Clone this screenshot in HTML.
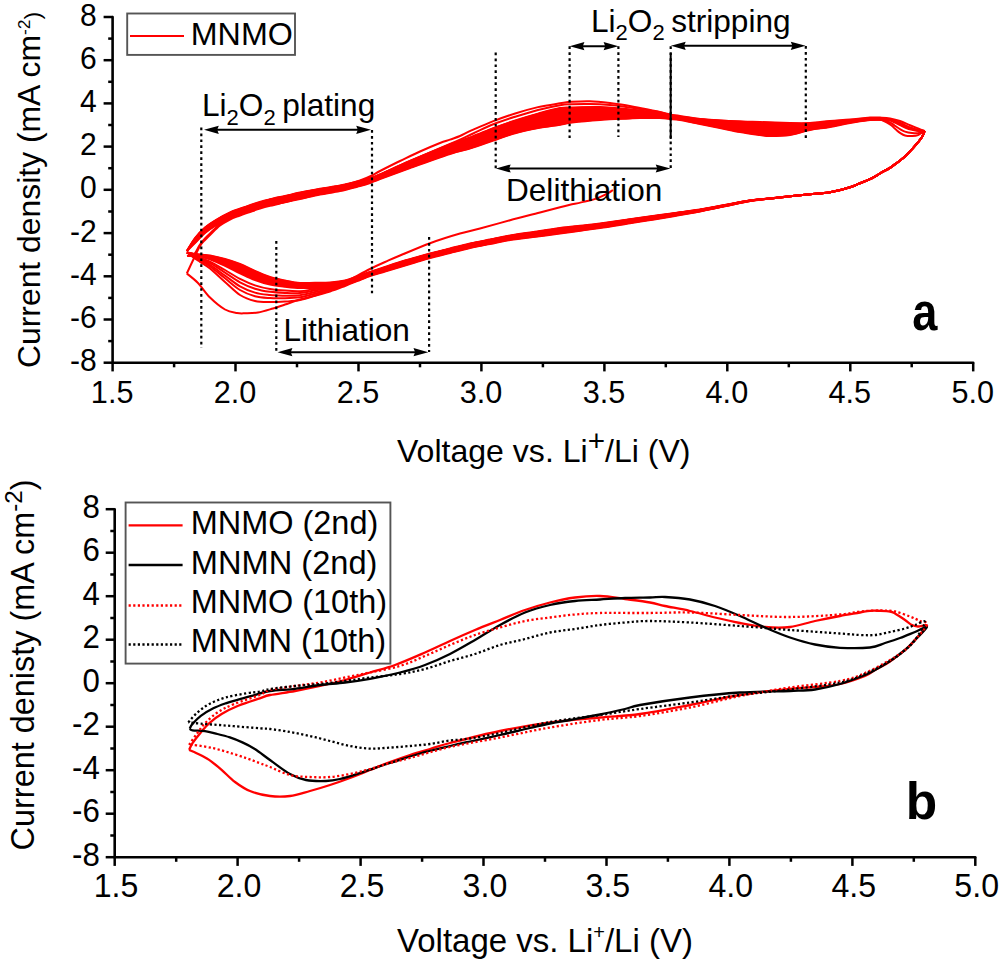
<!DOCTYPE html>
<html><head><meta charset="utf-8"><title>CV curves</title>
<style>html,body{margin:0;padding:0;background:#fff;}svg{display:block;}
text{font-family:"Liberation Sans",sans-serif;fill:#000;}</style></head>
<body><svg width="1000" height="962" viewBox="0 0 1000 962">
<rect width="1000" height="962" fill="#fff"/>
<path d="M112.6,17.0 V362.7 H973.2" fill="none" stroke="#000" stroke-width="2.6" stroke-linejoin="round" stroke-linecap="round"/>
<line x1="112.6" y1="362.7" x2="112.6" y2="371.4" stroke="#000" stroke-width="2.5"/>
<text transform="translate(112.17,402.86) scale(0.9757,1)" font-size="31.40" text-anchor="middle">1.5</text>
<line x1="174.1" y1="362.7" x2="174.1" y2="367.3" stroke="#000" stroke-width="2.5"/>
<line x1="235.5" y1="362.7" x2="235.5" y2="371.4" stroke="#000" stroke-width="2.5"/>
<text transform="translate(235.11,402.86) scale(0.9757,1)" font-size="31.40" text-anchor="middle">2.0</text>
<line x1="297.0" y1="362.7" x2="297.0" y2="367.3" stroke="#000" stroke-width="2.5"/>
<line x1="358.5" y1="362.7" x2="358.5" y2="371.4" stroke="#000" stroke-width="2.5"/>
<text transform="translate(358.06,402.86) scale(0.9757,1)" font-size="31.40" text-anchor="middle">2.5</text>
<line x1="420.0" y1="362.7" x2="420.0" y2="367.3" stroke="#000" stroke-width="2.5"/>
<line x1="481.4" y1="362.7" x2="481.4" y2="371.4" stroke="#000" stroke-width="2.5"/>
<text transform="translate(481.00,402.86) scale(0.9757,1)" font-size="31.40" text-anchor="middle">3.0</text>
<line x1="542.9" y1="362.7" x2="542.9" y2="367.3" stroke="#000" stroke-width="2.5"/>
<line x1="604.4" y1="362.7" x2="604.4" y2="371.4" stroke="#000" stroke-width="2.5"/>
<text transform="translate(603.94,402.86) scale(0.9757,1)" font-size="31.40" text-anchor="middle">3.5</text>
<line x1="665.8" y1="362.7" x2="665.8" y2="367.3" stroke="#000" stroke-width="2.5"/>
<line x1="727.3" y1="362.7" x2="727.3" y2="371.4" stroke="#000" stroke-width="2.5"/>
<text transform="translate(726.88,402.86) scale(0.9757,1)" font-size="31.40" text-anchor="middle">4.0</text>
<line x1="788.8" y1="362.7" x2="788.8" y2="367.3" stroke="#000" stroke-width="2.5"/>
<line x1="850.3" y1="362.7" x2="850.3" y2="371.4" stroke="#000" stroke-width="2.5"/>
<text transform="translate(849.83,402.86) scale(0.9757,1)" font-size="31.40" text-anchor="middle">4.5</text>
<line x1="911.7" y1="362.7" x2="911.7" y2="367.3" stroke="#000" stroke-width="2.5"/>
<line x1="973.2" y1="362.7" x2="973.2" y2="371.4" stroke="#000" stroke-width="2.5"/>
<text transform="translate(972.77,402.86) scale(0.9757,1)" font-size="31.40" text-anchor="middle">5.0</text>
<line x1="103.6" y1="17.0" x2="112.6" y2="17.0" stroke="#000" stroke-width="2.5"/>
<text transform="translate(96.84,25.54) scale(0.9508,1)" font-size="31.60" text-anchor="end">8</text>
<line x1="108.2" y1="38.6" x2="112.6" y2="38.6" stroke="#000" stroke-width="2.5"/>
<line x1="103.6" y1="60.2" x2="112.6" y2="60.2" stroke="#000" stroke-width="2.5"/>
<text transform="translate(96.84,68.75) scale(0.9508,1)" font-size="31.60" text-anchor="end">6</text>
<line x1="108.2" y1="81.8" x2="112.6" y2="81.8" stroke="#000" stroke-width="2.5"/>
<line x1="103.6" y1="103.4" x2="112.6" y2="103.4" stroke="#000" stroke-width="2.5"/>
<text transform="translate(96.84,111.97) scale(0.9508,1)" font-size="31.60" text-anchor="end">4</text>
<line x1="108.2" y1="125.0" x2="112.6" y2="125.0" stroke="#000" stroke-width="2.5"/>
<line x1="103.6" y1="146.6" x2="112.6" y2="146.6" stroke="#000" stroke-width="2.5"/>
<text transform="translate(96.84,155.18) scale(0.9508,1)" font-size="31.60" text-anchor="end">2</text>
<line x1="108.2" y1="168.2" x2="112.6" y2="168.2" stroke="#000" stroke-width="2.5"/>
<line x1="103.6" y1="189.8" x2="112.6" y2="189.8" stroke="#000" stroke-width="2.5"/>
<text transform="translate(96.84,198.39) scale(0.9508,1)" font-size="31.60" text-anchor="end">0</text>
<line x1="108.2" y1="211.5" x2="112.6" y2="211.5" stroke="#000" stroke-width="2.5"/>
<line x1="103.6" y1="233.1" x2="112.6" y2="233.1" stroke="#000" stroke-width="2.5"/>
<text transform="translate(96.84,241.60) scale(0.9508,1)" font-size="31.60" text-anchor="end">-2</text>
<line x1="108.2" y1="254.7" x2="112.6" y2="254.7" stroke="#000" stroke-width="2.5"/>
<line x1="103.6" y1="276.3" x2="112.6" y2="276.3" stroke="#000" stroke-width="2.5"/>
<text transform="translate(96.84,284.81) scale(0.9508,1)" font-size="31.60" text-anchor="end">-4</text>
<line x1="108.2" y1="297.9" x2="112.6" y2="297.9" stroke="#000" stroke-width="2.5"/>
<line x1="103.6" y1="319.5" x2="112.6" y2="319.5" stroke="#000" stroke-width="2.5"/>
<text transform="translate(96.84,328.03) scale(0.9508,1)" font-size="31.60" text-anchor="end">-6</text>
<line x1="108.2" y1="341.1" x2="112.6" y2="341.1" stroke="#000" stroke-width="2.5"/>
<line x1="103.6" y1="362.7" x2="112.6" y2="362.7" stroke="#000" stroke-width="2.5"/>
<text transform="translate(96.84,371.24) scale(0.9508,1)" font-size="31.60" text-anchor="end">-8</text>
<path d="M187.0,251.0 C188.3,248.8 192.0,241.9 195.0,238.0 C198.0,234.1 201.7,230.4 205.0,227.5 C208.3,224.6 210.8,223.0 215.0,220.5 C219.2,218.0 225.0,214.8 230.0,212.5 C235.0,210.2 240.8,208.5 245.0,207.0 C249.2,205.5 251.7,204.6 255.0,203.5 C258.3,202.4 261.7,201.4 265.0,200.5 C268.3,199.6 271.7,198.8 275.0,198.0 C278.3,197.2 280.8,196.9 285.0,196.0 C289.2,195.1 294.2,193.7 300.0,192.5 C305.8,191.3 313.3,190.0 320.0,188.8 C326.7,187.6 333.3,186.8 340.0,185.5 C346.7,184.2 355.0,182.2 360.0,181.0 C365.0,179.8 366.7,179.1 370.0,178.0 C373.3,176.9 373.3,177.3 380.0,174.5 C386.7,171.7 398.3,166.0 410.0,161.0 C421.7,156.0 439.7,148.5 450.0,144.4 C460.3,140.3 464.7,139.4 472.0,136.7 C479.3,133.9 486.7,130.7 494.0,127.9 C501.3,125.2 508.7,122.6 516.0,120.2 C523.3,117.8 530.7,115.6 538.0,113.6 C545.3,111.6 554.3,109.1 560.0,108.1 C565.7,107.1 565.3,107.7 572.0,107.5 C578.7,107.3 591.0,106.8 600.0,107.0 C609.0,107.2 619.3,108.4 626.0,109.0 C632.7,109.6 634.3,109.8 640.0,110.5 C645.7,111.2 655.0,112.6 660.0,113.5 C665.0,114.4 666.7,115.3 670.0,116.0 C673.3,116.7 675.0,116.8 680.0,117.5 C685.0,118.2 693.3,119.3 700.0,120.0 C706.7,120.7 713.3,121.1 720.0,121.5 C726.7,121.9 733.3,122.2 740.0,122.5 C746.7,122.8 755.0,123.2 760.0,123.5 C765.0,123.8 765.0,123.8 770.0,124.0 C775.0,124.2 783.3,124.4 790.0,124.5 C796.7,124.6 803.3,124.8 810.0,124.5 C816.7,124.2 823.3,123.1 830.0,122.5 C836.7,121.9 843.3,121.5 850.0,121.0 C856.7,120.5 865.0,119.8 870.0,119.5 C875.0,119.2 878.3,119.5 880.0,119.5 L880.0,119.5 C878.3,119.6 875.0,119.4 870.0,120.0 C865.0,120.6 856.7,121.8 850.0,123.0 C843.3,124.2 836.7,125.8 830.0,127.0 C823.3,128.2 816.7,128.7 810.0,130.0 C803.3,131.3 796.7,134.0 790.0,135.0 C783.3,136.0 775.0,136.0 770.0,136.0 C765.0,136.0 765.0,135.7 760.0,135.0 C755.0,134.3 746.7,133.2 740.0,132.0 C733.3,130.8 726.7,129.3 720.0,128.0 C713.3,126.7 706.7,125.3 700.0,124.0 C693.3,122.7 685.0,120.8 680.0,120.0 C675.0,119.2 673.3,119.3 670.0,119.0 C666.7,118.7 665.0,118.2 660.0,118.0 C655.0,117.8 645.7,117.9 640.0,118.0 C634.3,118.1 632.7,118.4 626.0,118.7 C619.3,119.0 609.0,119.4 600.0,120.0 C591.0,120.6 578.7,121.7 572.0,122.5 C565.3,123.3 565.7,123.9 560.0,124.8 C554.3,125.7 545.3,126.7 538.0,128.1 C530.7,129.5 523.3,131.0 516.0,133.0 C508.7,135.0 501.3,137.7 494.0,140.2 C486.7,142.7 479.3,145.6 472.0,147.9 C464.7,150.2 460.3,150.7 450.0,154.0 C439.7,157.3 421.7,163.8 410.0,168.0 C398.3,172.2 386.7,176.5 380.0,179.0 C373.3,181.5 373.3,181.8 370.0,183.0 C366.7,184.2 365.0,184.7 360.0,186.0 C355.0,187.3 346.7,189.6 340.0,191.0 C333.3,192.4 326.7,193.2 320.0,194.5 C313.3,195.8 305.8,197.8 300.0,199.0 C294.2,200.2 289.2,201.2 285.0,202.0 C280.8,202.8 278.3,203.3 275.0,204.0 C271.7,204.7 268.3,205.2 265.0,206.0 C261.7,206.8 258.3,208.0 255.0,209.0 C251.7,210.0 249.2,210.6 245.0,212.0 C240.8,213.4 235.0,215.2 230.0,217.5 C225.0,219.8 219.2,223.4 215.0,226.0 C210.8,228.6 208.3,230.2 205.0,233.0 C201.7,235.8 198.0,240.0 195.0,243.0 C192.0,246.0 188.3,249.7 187.0,251.0 Z" fill="#ff0000" stroke="#ff0000" stroke-width="1.2" stroke-linejoin="round"/>
<path d="M187.0,251.0 C188.3,248.8 192.0,241.9 195.0,238.0 C198.0,234.1 201.7,230.4 205.0,227.5 C208.3,224.6 210.8,223.0 215.0,220.5 C219.2,218.0 225.0,214.8 230.0,212.5 C235.0,210.2 240.8,208.5 245.0,207.0 C249.2,205.5 251.7,204.6 255.0,203.5 C258.3,202.4 261.7,201.4 265.0,200.5 C268.3,199.6 271.7,198.8 275.0,198.0 C278.3,197.2 280.8,196.9 285.0,196.0 C289.2,195.1 294.2,193.7 300.0,192.5 C305.8,191.3 313.3,190.0 320.0,188.8 C326.7,187.6 333.3,186.8 340.0,185.5 C346.7,184.2 355.0,182.2 360.0,181.0 C365.0,179.8 366.7,179.1 370.0,178.0 C373.3,176.9 373.3,177.3 380.0,174.5 C386.7,171.7 398.3,166.0 410.0,161.0 C421.7,156.0 439.7,148.5 450.0,144.4 C460.3,140.3 464.7,139.4 472.0,136.7 C479.3,133.9 486.7,130.7 494.0,127.9 C501.3,125.2 508.7,122.6 516.0,120.2 C523.3,117.8 530.7,115.6 538.0,113.6 C545.3,111.6 554.3,109.1 560.0,108.1 C565.7,107.1 565.3,107.7 572.0,107.5 C578.7,107.3 591.0,106.8 600.0,107.0 C609.0,107.2 619.3,108.4 626.0,109.0 C632.7,109.6 634.3,109.8 640.0,110.5 C645.7,111.2 655.0,112.6 660.0,113.5 C665.0,114.4 666.7,115.3 670.0,116.0 C673.3,116.7 675.0,116.8 680.0,117.5 C685.0,118.2 693.3,119.3 700.0,120.0 C706.7,120.7 713.3,121.1 720.0,121.5 C726.7,121.9 733.3,122.2 740.0,122.5 C746.7,122.8 755.0,123.2 760.0,123.5 C765.0,123.8 765.0,123.8 770.0,124.0 C775.0,124.2 783.3,124.4 790.0,124.5 C796.7,124.6 803.3,124.8 810.0,124.5 C816.7,124.2 823.3,123.1 830.0,122.5 C836.7,121.9 843.3,121.5 850.0,121.0 C856.7,120.5 865.0,119.8 870.0,119.5 C875.0,119.2 876.7,119.5 880.0,119.5 C883.3,119.5 887.5,119.2 890.0,119.5 C892.5,119.8 893.3,120.4 895.0,121.0 C896.7,121.6 898.3,122.3 900.0,123.0 C901.7,123.7 903.0,124.4 905.0,125.3 C907.0,126.2 909.8,127.4 912.0,128.2 C914.2,129.0 915.9,129.5 918.0,130.0 C920.1,130.5 923.5,130.8 924.6,131.0" fill="none" stroke="#ff0000" stroke-width="2.0" stroke-linejoin="round"/>
<path d="M187.0,251.0 C188.3,248.9 192.0,242.3 195.0,238.5 C198.0,234.7 201.7,231.0 205.0,228.1 C208.3,225.1 210.8,223.6 215.0,221.1 C219.2,218.5 225.0,215.3 230.0,213.0 C235.0,210.7 240.8,209.0 245.0,207.5 C249.2,206.0 251.7,205.1 255.0,204.1 C258.3,203.0 261.7,202.0 265.0,201.1 C268.3,200.1 271.7,199.3 275.0,198.6 C278.3,197.9 280.8,197.5 285.0,196.6 C289.2,195.7 294.2,194.4 300.0,193.2 C305.8,191.9 313.3,190.6 320.0,189.4 C326.7,188.2 333.3,187.4 340.0,186.1 C346.7,184.7 355.0,182.8 360.0,181.5 C365.0,180.2 366.7,179.6 370.0,178.5 C373.3,177.4 373.3,177.8 380.0,175.0 C386.7,172.2 398.3,166.6 410.0,161.7 C421.7,156.8 439.7,149.3 450.0,145.4 C460.3,141.4 464.7,140.5 472.0,137.8 C479.3,135.1 486.7,131.9 494.0,129.1 C501.3,126.4 508.7,123.8 516.0,121.5 C523.3,119.1 530.7,117.0 538.0,115.0 C545.3,113.1 554.3,110.8 560.0,109.8 C565.7,108.8 565.3,109.2 572.0,109.0 C578.7,108.8 591.0,108.1 600.0,108.3 C609.0,108.5 619.3,109.5 626.0,110.0 C632.7,110.5 634.3,110.6 640.0,111.2 C645.7,111.9 655.0,113.1 660.0,114.0 C665.0,114.8 666.7,115.7 670.0,116.3 C673.3,116.9 675.0,117.1 680.0,117.8 C685.0,118.4 693.3,119.7 700.0,120.4 C706.7,121.1 713.3,121.6 720.0,122.2 C726.7,122.7 733.3,123.0 740.0,123.5 C746.7,123.9 755.0,124.4 760.0,124.7 C765.0,124.9 765.0,125.1 770.0,125.2 C775.0,125.4 783.3,125.6 790.0,125.5 C796.7,125.5 803.3,125.5 810.0,125.0 C816.7,124.6 823.3,123.6 830.0,123.0 C836.7,122.3 843.3,121.8 850.0,121.2 C856.7,120.6 865.0,119.8 870.0,119.5 C875.0,119.3 876.7,119.4 880.0,119.5 C883.3,119.6 887.5,119.6 890.0,120.0 C892.5,120.4 893.3,121.1 895.0,121.8 C896.7,122.4 898.3,123.2 900.0,124.0 C901.7,124.7 903.0,125.5 905.0,126.3 C907.0,127.2 909.8,128.3 912.0,129.0 C914.2,129.7 915.9,130.2 918.0,130.5 C920.1,130.8 923.5,130.9 924.6,131.0" fill="none" stroke="#ff0000" stroke-width="2.0" stroke-linejoin="round"/>
<path d="M187.0,251.0 C188.3,249.0 192.0,242.8 195.0,239.1 C198.0,235.4 201.7,231.6 205.0,228.7 C208.3,225.8 210.8,224.2 215.0,221.7 C219.2,219.2 225.0,215.9 230.0,213.6 C235.0,211.3 240.8,209.6 245.0,208.1 C249.2,206.6 251.7,205.8 255.0,204.7 C258.3,203.6 261.7,202.6 265.0,201.7 C268.3,200.8 271.7,200.1 275.0,199.3 C278.3,198.6 280.8,198.2 285.0,197.3 C289.2,196.4 294.2,195.1 300.0,193.9 C305.8,192.7 313.3,191.3 320.0,190.1 C326.7,188.9 333.3,188.0 340.0,186.7 C346.7,185.4 355.0,183.4 360.0,182.1 C365.0,180.8 366.7,180.2 370.0,179.1 C373.3,178.0 373.3,178.2 380.0,175.5 C386.7,172.7 398.3,167.4 410.0,162.5 C421.7,157.7 439.7,150.4 450.0,146.5 C460.3,142.6 464.7,141.8 472.0,139.2 C479.3,136.5 486.7,133.3 494.0,130.6 C501.3,127.9 508.7,125.3 516.0,123.0 C523.3,120.7 530.7,118.7 538.0,116.8 C545.3,114.9 554.3,112.8 560.0,111.8 C565.7,110.8 565.3,111.1 572.0,110.8 C578.7,110.5 591.0,109.8 600.0,109.9 C609.0,109.9 619.3,110.8 626.0,111.1 C632.7,111.5 634.3,111.6 640.0,112.2 C645.7,112.7 655.0,113.7 660.0,114.5 C665.0,115.2 666.7,116.1 670.0,116.7 C673.3,117.3 675.0,117.3 680.0,118.1 C685.0,118.8 693.3,120.1 700.0,120.9 C706.7,121.7 713.3,122.3 720.0,122.9 C726.7,123.5 733.3,124.1 740.0,124.6 C746.7,125.1 755.0,125.7 760.0,126.0 C765.0,126.4 765.0,126.5 770.0,126.6 C775.0,126.8 783.3,127.0 790.0,126.8 C796.7,126.7 803.3,126.3 810.0,125.7 C816.7,125.2 823.3,124.2 830.0,123.5 C836.7,122.8 843.3,122.1 850.0,121.4 C856.7,120.8 865.0,119.9 870.0,119.6 C875.0,119.3 876.7,119.3 880.0,119.5 C883.3,119.7 887.5,120.0 890.0,120.6 C892.5,121.1 893.3,121.9 895.0,122.7 C896.7,123.5 898.3,124.4 900.0,125.2 C901.7,126.0 903.0,126.8 905.0,127.5 C907.0,128.3 909.8,129.3 912.0,129.9 C914.2,130.5 915.9,130.9 918.0,131.1 C920.1,131.3 923.5,131.0 924.6,131.0" fill="none" stroke="#ff0000" stroke-width="2.0" stroke-linejoin="round"/>
<path d="M187.0,251.0 C188.3,249.3 192.0,244.4 195.0,241.1 C198.0,237.8 201.7,233.8 205.0,230.9 C208.3,228.0 210.8,226.5 215.0,223.9 C219.2,221.4 225.0,217.9 230.0,215.6 C235.0,213.3 240.8,211.5 245.0,210.1 C249.2,208.7 251.7,207.9 255.0,206.9 C258.3,205.9 261.7,204.8 265.0,203.9 C268.3,203.0 271.7,202.4 275.0,201.7 C278.3,201.0 280.8,200.6 285.0,199.7 C289.2,198.9 294.2,197.8 300.0,196.5 C305.8,195.3 313.3,193.6 320.0,192.3 C326.7,191.1 333.3,190.3 340.0,188.9 C346.7,187.5 355.0,185.4 360.0,184.1 C365.0,182.8 366.7,182.2 370.0,181.1 C373.3,180.0 373.3,179.9 380.0,177.3 C386.7,174.7 398.3,169.8 410.0,165.3 C421.7,160.9 439.7,154.0 450.0,150.4 C460.3,146.7 464.7,146.1 472.0,143.6 C479.3,141.2 486.7,138.1 494.0,135.5 C501.3,132.9 508.7,130.3 516.0,128.1 C523.3,126.0 530.7,124.2 538.0,122.6 C545.3,121.0 554.3,119.4 560.0,118.5 C565.7,117.5 565.3,117.4 572.0,116.8 C578.7,116.2 591.0,115.4 600.0,115.1 C609.0,114.8 619.3,115.0 626.0,115.0 C632.7,115.0 634.3,114.9 640.0,115.2 C645.7,115.4 655.0,115.8 660.0,116.3 C665.0,116.7 666.7,117.4 670.0,117.9 C673.3,118.3 675.0,118.3 680.0,119.1 C685.0,119.8 693.3,121.4 700.0,122.5 C706.7,123.6 713.3,124.5 720.0,125.5 C726.7,126.5 733.3,127.5 740.0,128.4 C746.7,129.2 755.0,130.1 760.0,130.6 C765.0,131.1 765.0,131.4 770.0,131.4 C775.0,131.5 783.3,131.6 790.0,131.0 C796.7,130.4 803.3,128.9 810.0,127.9 C816.7,127.0 823.3,126.2 830.0,125.3 C836.7,124.3 843.3,123.2 850.0,122.2 C856.7,121.3 865.0,120.3 870.0,119.8 C875.0,119.4 876.7,119.1 880.0,119.5 C883.3,119.9 887.5,121.4 890.0,122.5 C892.5,123.5 893.3,124.7 895.0,125.8 C896.7,126.9 898.3,128.2 900.0,129.1 C901.7,130.1 903.0,131.0 905.0,131.6 C907.0,132.3 909.8,132.8 912.0,133.0 C914.2,133.3 915.9,133.5 918.0,133.2 C920.1,132.8 923.5,131.4 924.6,131.0" fill="none" stroke="#ff0000" stroke-width="2.0" stroke-linejoin="round"/>
<path d="M187.0,251.0 C188.3,249.7 192.0,246.0 195.0,243.0 C198.0,240.0 201.7,235.8 205.0,233.0 C208.3,230.2 210.8,228.6 215.0,226.0 C219.2,223.4 225.0,219.8 230.0,217.5 C235.0,215.2 240.8,213.4 245.0,212.0 C249.2,210.6 251.7,210.0 255.0,209.0 C258.3,208.0 261.7,206.8 265.0,206.0 C268.3,205.2 271.7,204.7 275.0,204.0 C278.3,203.3 280.8,202.8 285.0,202.0 C289.2,201.2 294.2,200.2 300.0,199.0 C305.8,197.8 313.3,195.8 320.0,194.5 C326.7,193.2 333.3,192.4 340.0,191.0 C346.7,189.6 355.0,187.3 360.0,186.0 C365.0,184.7 366.7,184.2 370.0,183.0 C373.3,181.8 373.3,181.5 380.0,179.0 C386.7,176.5 398.3,172.2 410.0,168.0 C421.7,163.8 439.7,157.3 450.0,154.0 C460.3,150.7 464.7,150.2 472.0,147.9 C479.3,145.6 486.7,142.7 494.0,140.2 C501.3,137.7 508.7,135.0 516.0,133.0 C523.3,131.0 530.7,129.5 538.0,128.1 C545.3,126.7 554.3,125.7 560.0,124.8 C565.7,123.9 565.3,123.3 572.0,122.5 C578.7,121.7 591.0,120.6 600.0,120.0 C609.0,119.4 619.3,119.0 626.0,118.7 C632.7,118.4 634.3,118.1 640.0,118.0 C645.7,117.9 655.0,117.8 660.0,118.0 C665.0,118.2 666.7,118.7 670.0,119.0 C673.3,119.3 675.0,119.2 680.0,120.0 C685.0,120.8 693.3,122.7 700.0,124.0 C706.7,125.3 713.3,126.7 720.0,128.0 C726.7,129.3 733.3,130.8 740.0,132.0 C746.7,133.2 755.0,134.3 760.0,135.0 C765.0,135.7 765.0,136.0 770.0,136.0 C775.0,136.0 783.3,136.0 790.0,135.0 C796.7,134.0 803.3,131.3 810.0,130.0 C816.7,128.7 823.3,128.2 830.0,127.0 C836.7,125.8 843.3,124.2 850.0,123.0 C856.7,121.8 865.0,120.6 870.0,120.0 C875.0,119.4 876.7,118.8 880.0,119.5 C883.3,120.2 887.5,122.8 890.0,124.3 C892.5,125.8 893.3,127.4 895.0,128.8 C896.7,130.2 898.3,131.8 900.0,132.9 C901.7,134.0 903.0,135.0 905.0,135.5 C907.0,136.0 909.8,136.1 912.0,136.0 C914.2,135.9 915.9,135.9 918.0,135.1 C920.1,134.3 923.5,131.7 924.6,131.0" fill="none" stroke="#ff0000" stroke-width="2.0" stroke-linejoin="round"/>
<path d="M187.0,256.0 C188.1,255.8 191.3,256.9 193.5,255.0 C195.7,253.1 198.1,247.2 200.0,244.5 C201.9,241.8 203.3,240.3 205.0,238.5 C206.7,236.7 207.5,235.9 210.0,233.5 C212.5,231.1 216.7,226.6 220.0,224.0 C223.3,221.4 226.7,219.7 230.0,218.0 C233.3,216.3 236.7,215.2 240.0,214.0 C243.3,212.8 246.7,211.6 250.0,210.5 C253.3,209.4 256.7,208.4 260.0,207.5 C263.3,206.6 266.7,205.8 270.0,205.0 C273.3,204.2 275.0,204.2 280.0,203.0 C285.0,201.8 293.3,199.8 300.0,198.0 C306.7,196.2 313.3,194.2 320.0,192.5 C326.7,190.8 333.3,189.7 340.0,188.0 C346.7,186.3 354.7,184.2 360.0,182.5 C365.3,180.8 368.7,179.3 372.0,178.0 C375.3,176.7 373.7,177.3 380.0,174.5 C386.3,171.7 398.3,166.1 410.0,161.0 C421.7,155.9 439.7,148.5 450.0,144.0 C460.3,139.5 464.7,137.3 472.0,134.0 C479.3,130.7 486.7,126.9 494.0,124.0 C501.3,121.1 508.7,118.8 516.0,116.5 C523.3,114.2 530.7,111.9 538.0,110.0 C545.3,108.1 554.3,106.2 560.0,105.2 C565.7,104.2 567.0,104.4 572.0,104.2 C577.0,104.0 583.7,103.9 590.0,104.0 C596.3,104.1 604.0,104.5 610.0,105.0 C616.0,105.5 621.0,106.3 626.0,107.0 C631.0,107.7 634.3,108.1 640.0,109.0 C645.7,109.9 655.0,111.3 660.0,112.3 C665.0,113.3 666.7,114.3 670.0,115.0 C673.3,115.7 675.0,115.8 680.0,116.5 C685.0,117.2 693.3,118.3 700.0,119.0 C706.7,119.7 713.3,120.1 720.0,120.5 C726.7,120.9 733.3,121.2 740.0,121.5 C746.7,121.8 751.7,122.2 760.0,122.5 C768.3,122.8 781.7,123.3 790.0,123.5 C798.3,123.7 803.3,123.8 810.0,123.5 C816.7,123.2 823.3,122.1 830.0,121.5 C836.7,120.9 843.3,120.5 850.0,120.0 C856.7,119.5 865.0,118.8 870.0,118.5 C875.0,118.2 876.7,118.3 880.0,118.5 C883.3,118.7 887.5,119.1 890.0,119.5 C892.5,119.9 893.3,120.4 895.0,121.0 C896.7,121.6 898.3,122.3 900.0,123.0 C901.7,123.7 903.0,124.4 905.0,125.3 C907.0,126.2 909.8,127.4 912.0,128.2 C914.2,129.0 915.9,129.5 918.0,130.0 C920.1,130.5 923.5,130.8 924.6,131.0" fill="none" stroke="#ff0000" stroke-width="2.0" stroke-linejoin="round"/>
<path d="M186.8,273.5 C187.9,271.1 191.3,263.8 193.5,259.2 C195.7,254.6 198.1,249.2 200.0,246.0 C201.9,242.8 203.3,241.8 205.0,240.0 C206.7,238.2 207.5,237.4 210.0,235.0 C212.5,232.6 216.7,228.1 220.0,225.5 C223.3,222.9 226.7,221.2 230.0,219.5 C233.3,217.8 236.7,216.8 240.0,215.5 C243.3,214.2 246.7,213.2 250.0,212.0 C253.3,210.8 256.7,209.5 260.0,208.5 C263.3,207.5 266.7,206.6 270.0,205.8 C273.3,205.0 276.7,204.3 280.0,203.5 C283.3,202.7 286.7,202.0 290.0,201.0 C293.3,200.0 295.0,199.1 300.0,197.5 C305.0,195.9 313.3,193.3 320.0,191.5 C326.7,189.7 333.3,188.3 340.0,186.5 C346.7,184.7 354.7,182.3 360.0,180.5 C365.3,178.7 368.7,177.1 372.0,175.5 C375.3,173.9 375.3,173.4 380.0,171.0 C384.7,168.6 393.3,164.2 400.0,161.0 C406.7,157.8 413.3,154.5 420.0,151.5 C426.7,148.5 435.0,145.0 440.0,143.0 C445.0,141.0 446.7,140.8 450.0,139.6 C453.3,138.4 456.3,137.6 460.0,136.0 C463.7,134.4 466.3,132.7 472.0,130.2 C477.7,127.7 486.7,123.7 494.0,120.9 C501.3,118.1 508.7,115.5 516.0,113.2 C523.3,110.9 530.7,108.8 538.0,107.1 C545.3,105.4 554.3,104.2 560.0,103.3 C565.7,102.4 567.0,102.0 572.0,101.7 C577.0,101.4 583.7,101.0 590.0,101.2 C596.3,101.4 604.0,102.3 610.0,103.0 C616.0,103.7 621.0,104.5 626.0,105.3 C631.0,106.1 634.3,106.9 640.0,108.0 C645.7,109.1 655.0,110.9 660.0,112.0 C665.0,113.1 666.7,113.8 670.0,114.5 C673.3,115.2 675.0,115.2 680.0,116.0 C685.0,116.8 693.3,118.2 700.0,119.0 C706.7,119.8 713.3,120.1 720.0,120.5 C726.7,120.9 733.3,121.2 740.0,121.5 C746.7,121.8 751.7,121.8 760.0,122.0 C768.3,122.2 781.7,122.8 790.0,123.0 C798.3,123.2 803.3,123.3 810.0,123.0 C816.7,122.7 823.3,121.6 830.0,121.0 C836.7,120.4 843.3,120.1 850.0,119.5 C856.7,118.9 865.0,117.9 870.0,117.6 C875.0,117.3 876.7,117.4 880.0,117.6 C883.3,117.8 886.7,117.9 890.0,118.5 C893.3,119.1 896.7,119.9 900.0,121.0 C903.3,122.1 907.0,124.0 910.0,125.2 C913.0,126.4 915.6,127.4 918.0,128.4 C920.4,129.4 923.5,130.6 924.6,131.0" fill="none" stroke="#ff0000" stroke-width="2.0" stroke-linejoin="round"/>
<path d="M924.6,131.0 C924.2,132.0 923.1,135.2 922.0,137.1 C920.9,138.9 919.5,140.4 918.0,142.2 C916.5,144.1 915.2,145.8 913.0,148.1 C910.8,150.5 907.7,154.1 905.0,156.6 C902.3,159.0 899.5,160.9 897.0,162.8 C894.5,164.6 892.8,166.0 890.0,167.8 C887.2,169.5 883.3,171.6 880.0,173.5 C876.7,175.4 873.3,177.6 870.0,179.2 C866.7,180.9 863.3,181.9 860.0,183.2 C856.7,184.6 855.0,185.8 850.0,187.2 C845.0,188.8 836.7,191.1 830.0,192.2 C823.3,193.4 816.7,193.6 810.0,194.2 C803.3,194.9 796.7,195.5 790.0,196.2 C783.3,197.0 776.7,197.8 770.0,198.5 C763.3,199.2 757.5,199.4 750.0,200.5 C742.5,201.6 733.3,203.5 725.0,205.0 C716.7,206.5 707.5,208.3 700.0,209.5 C692.5,210.7 686.7,211.3 680.0,212.2 C673.3,213.2 668.3,213.8 660.0,215.0 C651.7,216.2 640.0,217.8 630.0,219.2 C620.0,220.7 608.3,222.4 600.0,223.5 C591.7,224.6 586.7,225.0 580.0,225.8 C573.3,226.5 567.5,227.0 560.0,228.0 C552.5,229.0 543.3,230.5 535.0,231.8 C526.7,233.0 517.5,234.2 510.0,235.5 C502.5,236.8 496.7,238.2 490.0,239.5 C483.3,240.8 476.7,242.0 470.0,243.5 C463.3,245.0 456.7,246.8 450.0,248.5 C443.3,250.2 435.8,252.0 430.0,253.5 C424.2,255.0 420.0,256.3 415.0,257.8 C410.0,259.2 405.0,260.5 400.0,262.0 C395.0,263.5 390.0,265.3 385.0,267.0 C380.0,268.7 374.2,270.6 370.0,272.0 C365.8,273.4 364.2,274.1 360.0,275.5 C355.8,276.9 350.0,279.3 345.0,280.5 C340.0,281.7 335.0,282.1 330.0,282.5 C325.0,282.9 320.0,282.7 315.0,282.8 C310.0,282.8 305.0,283.4 300.0,283.0 C295.0,282.6 290.0,281.5 285.0,280.5 C280.0,279.5 275.0,278.6 270.0,277.0 C265.0,275.4 260.0,273.2 255.0,271.0 C250.0,268.8 245.0,266.0 240.0,264.0 C235.0,262.0 230.0,260.4 225.0,259.0 C220.0,257.6 214.2,256.3 210.0,255.5 C205.8,254.7 202.8,254.7 200.0,254.4 C197.2,254.1 195.7,254.0 193.5,253.7 C191.3,253.4 188.1,252.7 187.0,252.5 L187.0,252.5 C188.1,252.9 191.3,254.1 193.5,254.8 C195.7,255.4 197.2,255.8 200.0,256.5 C202.8,257.2 205.8,257.6 210.0,259.1 C214.2,260.6 220.0,263.2 225.0,265.4 C230.0,267.7 235.0,270.4 240.0,272.7 C245.0,275.0 250.0,277.5 255.0,279.4 C260.0,281.3 265.0,282.9 270.0,284.0 C275.0,285.2 280.0,285.8 285.0,286.4 C290.0,287.0 295.0,287.3 300.0,287.8 C305.0,288.2 310.0,288.8 315.0,288.9 C320.0,289.1 325.0,289.2 330.0,288.6 C335.0,287.9 340.0,286.7 345.0,285.3 C350.0,283.9 355.8,281.5 360.0,280.0 C364.2,278.5 365.8,277.4 370.0,276.0 C374.2,274.6 380.0,273.0 385.0,271.5 C390.0,270.0 395.0,268.5 400.0,267.0 C405.0,265.5 410.0,264.0 415.0,262.5 C420.0,261.0 424.2,259.6 430.0,258.0 C435.8,256.4 443.3,254.7 450.0,253.0 C456.7,251.3 463.3,249.5 470.0,248.0 C476.7,246.5 483.3,245.3 490.0,244.0 C496.7,242.7 502.5,241.2 510.0,240.0 C517.5,238.8 526.7,237.8 535.0,236.8 C543.3,235.7 552.5,234.5 560.0,233.5 C567.5,232.5 573.3,231.7 580.0,230.8 C586.7,229.8 591.7,229.2 600.0,228.0 C608.3,226.8 620.0,224.8 630.0,223.2 C640.0,221.7 651.7,219.9 660.0,218.5 C668.3,217.1 673.3,216.2 680.0,215.0 C686.7,213.8 692.5,213.0 700.0,211.5 C707.5,210.0 716.7,208.0 725.0,206.2 C733.3,204.5 742.5,202.3 750.0,201.0 C757.5,199.7 763.3,199.3 770.0,198.5 C776.7,197.7 783.3,197.0 790.0,196.2 C796.7,195.5 803.3,194.9 810.0,194.2 C816.7,193.6 823.3,193.4 830.0,192.2 C836.7,191.1 845.0,188.8 850.0,187.2 C855.0,185.8 856.7,184.6 860.0,183.2 C863.3,181.9 866.7,180.9 870.0,179.2 C873.3,177.6 876.7,175.4 880.0,173.5 C883.3,171.6 887.2,169.5 890.0,167.8 C892.8,166.0 894.5,164.6 897.0,162.8 C899.5,160.9 902.3,159.0 905.0,156.6 C907.7,154.1 910.8,150.5 913.0,148.1 C915.2,145.8 916.5,144.1 918.0,142.2 C919.5,140.4 920.9,138.9 922.0,137.1 C923.1,135.2 924.2,132.0 924.6,131.0 Z" fill="#ff0000" stroke="#ff0000" stroke-width="1.2" stroke-linejoin="round"/>
<path d="M924.6,131.0 C924.2,132.0 923.1,135.2 922.0,137.1 C920.9,138.9 919.5,140.4 918.0,142.2 C916.5,144.1 915.2,145.8 913.0,148.1 C910.8,150.5 907.7,154.1 905.0,156.6 C902.3,159.0 899.5,160.9 897.0,162.8 C894.5,164.6 892.8,166.0 890.0,167.8 C887.2,169.5 883.3,171.6 880.0,173.5 C876.7,175.4 873.3,177.6 870.0,179.2 C866.7,180.9 863.3,181.9 860.0,183.2 C856.7,184.6 855.0,185.8 850.0,187.2 C845.0,188.8 836.7,191.1 830.0,192.2 C823.3,193.4 816.7,193.6 810.0,194.2 C803.3,194.9 796.7,195.5 790.0,196.2 C783.3,197.0 776.7,197.8 770.0,198.5 C763.3,199.2 757.5,199.4 750.0,200.5 C742.5,201.6 733.3,203.5 725.0,205.0 C716.7,206.5 707.5,208.3 700.0,209.5 C692.5,210.7 686.7,211.3 680.0,212.2 C673.3,213.2 668.3,213.8 660.0,215.0 C651.7,216.2 640.0,217.8 630.0,219.2 C620.0,220.7 608.3,222.4 600.0,223.5 C591.7,224.6 586.7,225.0 580.0,225.8 C573.3,226.5 567.5,227.0 560.0,228.0 C552.5,229.0 543.3,230.5 535.0,231.8 C526.7,233.0 517.5,234.2 510.0,235.5 C502.5,236.8 496.7,238.2 490.0,239.5 C483.3,240.8 476.7,242.0 470.0,243.5 C463.3,245.0 456.7,246.8 450.0,248.5 C443.3,250.2 435.8,252.0 430.0,253.5 C424.2,255.0 420.0,256.3 415.0,257.8 C410.0,259.2 405.0,260.5 400.0,262.0 C395.0,263.5 390.0,265.3 385.0,267.0 C380.0,268.7 374.2,270.6 370.0,272.0 C365.8,273.4 364.2,274.1 360.0,275.5 C355.8,276.9 350.0,279.3 345.0,280.5 C340.0,281.7 335.0,282.1 330.0,282.5 C325.0,282.9 320.0,282.7 315.0,282.8 C310.0,282.8 305.0,283.4 300.0,283.0 C295.0,282.6 290.0,281.5 285.0,280.5 C280.0,279.5 275.0,278.6 270.0,277.0 C265.0,275.4 260.0,273.2 255.0,271.0 C250.0,268.8 245.0,266.0 240.0,264.0 C235.0,262.0 230.0,260.4 225.0,259.0 C220.0,257.6 214.2,256.3 210.0,255.5 C205.8,254.7 202.8,254.7 200.0,254.4 C197.2,254.1 195.7,254.0 193.5,253.7 C191.3,253.4 188.1,252.7 187.0,252.5" fill="none" stroke="#ff0000" stroke-width="2.0" stroke-linejoin="round"/>
<path d="M924.6,131.0 C924.2,132.0 923.1,135.2 922.0,137.1 C920.9,138.9 919.5,140.4 918.0,142.2 C916.5,144.1 915.2,145.8 913.0,148.1 C910.8,150.5 907.7,154.1 905.0,156.6 C902.3,159.0 899.5,160.9 897.0,162.8 C894.5,164.6 892.8,166.0 890.0,167.8 C887.2,169.5 883.3,171.6 880.0,173.5 C876.7,175.4 873.3,177.6 870.0,179.2 C866.7,180.9 863.3,181.9 860.0,183.2 C856.7,184.6 855.0,185.8 850.0,187.2 C845.0,188.8 836.7,191.1 830.0,192.2 C823.3,193.4 816.7,193.6 810.0,194.2 C803.3,194.9 796.7,195.5 790.0,196.2 C783.3,197.0 776.7,197.8 770.0,198.5 C763.3,199.2 757.5,199.4 750.0,200.5 C742.5,201.6 733.3,203.6 725.0,205.1 C716.7,206.6 707.5,208.4 700.0,209.7 C692.5,210.9 686.7,211.5 680.0,212.5 C673.3,213.4 668.3,214.1 660.0,215.3 C651.7,216.5 640.0,218.1 630.0,219.6 C620.0,221.0 608.3,222.8 600.0,223.9 C591.7,225.0 586.7,225.4 580.0,226.2 C573.3,226.9 567.5,227.4 560.0,228.4 C552.5,229.4 543.3,230.9 535.0,232.2 C526.7,233.4 517.5,234.6 510.0,235.9 C502.5,237.1 496.7,238.5 490.0,239.9 C483.3,241.2 476.7,242.4 470.0,243.9 C463.3,245.4 456.7,247.2 450.0,248.9 C443.3,250.5 435.8,252.3 430.0,253.9 C424.2,255.4 420.0,256.7 415.0,258.1 C410.0,259.6 405.0,260.9 400.0,262.4 C395.0,263.9 390.0,265.7 385.0,267.4 C380.0,269.0 374.2,270.9 370.0,272.3 C365.8,273.7 364.2,274.4 360.0,275.9 C355.8,277.3 350.0,279.7 345.0,280.9 C340.0,282.2 335.0,282.7 330.0,283.2 C325.0,283.7 320.0,283.6 315.0,283.8 C310.0,284.0 305.0,284.6 300.0,284.4 C295.0,284.1 290.0,283.1 285.0,282.2 C280.0,281.3 275.0,280.5 270.0,279.0 C265.0,277.5 260.0,275.5 255.0,273.4 C250.0,271.3 245.0,268.6 240.0,266.5 C235.0,264.4 230.0,262.5 225.0,260.8 C220.0,259.2 214.2,257.5 210.0,256.5 C205.8,255.6 202.8,255.4 200.0,255.0 C197.2,254.6 195.7,254.4 193.5,254.0 C191.3,253.6 188.1,252.8 187.0,252.5" fill="none" stroke="#ff0000" stroke-width="2.0" stroke-linejoin="round"/>
<path d="M924.6,131.0 C924.2,132.0 923.1,135.2 922.0,137.1 C920.9,138.9 919.5,140.4 918.0,142.2 C916.5,144.1 915.2,145.8 913.0,148.1 C910.8,150.5 907.7,154.1 905.0,156.6 C902.3,159.0 899.5,160.9 897.0,162.8 C894.5,164.6 892.8,166.0 890.0,167.8 C887.2,169.5 883.3,171.6 880.0,173.5 C876.7,175.4 873.3,177.6 870.0,179.2 C866.7,180.9 863.3,181.9 860.0,183.2 C856.7,184.6 855.0,185.8 850.0,187.2 C845.0,188.8 836.7,191.1 830.0,192.2 C823.3,193.4 816.7,193.6 810.0,194.2 C803.3,194.9 796.7,195.5 790.0,196.2 C783.3,197.0 776.7,197.8 770.0,198.5 C763.3,199.2 757.5,199.5 750.0,200.6 C742.5,201.7 733.3,203.7 725.0,205.2 C716.7,206.7 707.5,208.6 700.0,209.8 C692.5,211.1 686.7,211.7 680.0,212.7 C673.3,213.6 668.3,214.4 660.0,215.6 C651.7,216.8 640.0,218.4 630.0,219.9 C620.0,221.3 608.3,223.1 600.0,224.2 C591.7,225.3 586.7,225.8 580.0,226.6 C573.3,227.3 567.5,227.9 560.0,228.9 C552.5,229.9 543.3,231.3 535.0,232.5 C526.7,233.8 517.5,234.9 510.0,236.2 C502.5,237.5 496.7,238.9 490.0,240.2 C483.3,241.6 476.7,242.7 470.0,244.2 C463.3,245.7 456.7,247.6 450.0,249.2 C443.3,250.9 435.8,252.7 430.0,254.2 C424.2,255.8 420.0,257.1 415.0,258.5 C410.0,259.9 405.0,261.3 400.0,262.8 C395.0,264.3 390.0,266.1 385.0,267.7 C380.0,269.4 374.2,271.2 370.0,272.6 C365.8,274.1 364.2,274.8 360.0,276.2 C355.8,277.7 350.0,280.1 345.0,281.4 C340.0,282.7 335.0,283.4 330.0,283.9 C325.0,284.5 320.0,284.5 315.0,284.8 C310.0,285.1 305.0,285.9 300.0,285.7 C295.0,285.6 290.0,284.7 285.0,283.9 C280.0,283.1 275.0,282.4 270.0,281.0 C265.0,279.7 260.0,277.8 255.0,275.8 C250.0,273.8 245.0,271.1 240.0,269.0 C235.0,266.8 230.0,264.6 225.0,262.7 C220.0,260.8 214.2,258.8 210.0,257.6 C205.8,256.4 202.8,256.1 200.0,255.6 C197.2,255.1 195.7,254.8 193.5,254.3 C191.3,253.8 188.1,252.8 187.0,252.5" fill="none" stroke="#ff0000" stroke-width="2.0" stroke-linejoin="round"/>
<path d="M924.6,131.0 C924.2,132.0 923.1,135.2 922.0,137.1 C920.9,138.9 919.5,140.4 918.0,142.2 C916.5,144.1 915.2,145.8 913.0,148.1 C910.8,150.5 907.7,154.1 905.0,156.6 C902.3,159.0 899.5,160.9 897.0,162.8 C894.5,164.6 892.8,166.0 890.0,167.8 C887.2,169.5 883.3,171.6 880.0,173.5 C876.7,175.4 873.3,177.6 870.0,179.2 C866.7,180.9 863.3,181.9 860.0,183.2 C856.7,184.6 855.0,185.8 850.0,187.2 C845.0,188.8 836.7,191.1 830.0,192.2 C823.3,193.4 816.7,193.6 810.0,194.2 C803.3,194.9 796.7,195.5 790.0,196.2 C783.3,197.0 776.7,197.8 770.0,198.5 C763.3,199.2 757.5,199.5 750.0,200.6 C742.5,201.8 733.3,203.8 725.0,205.3 C716.7,206.9 707.5,208.7 700.0,210.0 C692.5,211.3 686.7,212.0 680.0,212.9 C673.3,213.9 668.3,214.7 660.0,215.9 C651.7,217.1 640.0,218.8 630.0,220.2 C620.0,221.7 608.3,223.5 600.0,224.6 C591.7,225.8 586.7,226.2 580.0,227.0 C573.3,227.8 567.5,228.4 560.0,229.4 C552.5,230.4 543.3,231.8 535.0,233.0 C526.7,234.2 517.5,235.4 510.0,236.6 C502.5,237.9 496.7,239.3 490.0,240.6 C483.3,242.0 476.7,243.1 470.0,244.6 C463.3,246.1 456.7,248.0 450.0,249.6 C443.3,251.3 435.8,253.1 430.0,254.6 C424.2,256.2 420.0,257.5 415.0,258.9 C410.0,260.4 405.0,261.7 400.0,263.2 C395.0,264.8 390.0,266.5 385.0,268.1 C380.0,269.8 374.2,271.6 370.0,273.0 C365.8,274.4 364.2,275.1 360.0,276.6 C355.8,278.1 350.0,280.5 345.0,281.9 C340.0,283.2 335.0,284.1 330.0,284.8 C325.0,285.4 320.0,285.6 315.0,286.0 C310.0,286.4 305.0,287.3 300.0,287.2 C295.0,287.2 290.0,286.4 285.0,285.8 C280.0,285.1 275.0,284.5 270.0,283.3 C265.0,282.1 260.0,280.4 255.0,278.5 C250.0,276.6 245.0,274.0 240.0,271.8 C235.0,269.5 230.0,266.9 225.0,264.8 C220.0,262.6 214.2,260.2 210.0,258.8 C205.8,257.3 202.8,257.0 200.0,256.3 C197.2,255.6 195.7,255.3 193.5,254.7 C191.3,254.0 188.1,252.9 187.0,252.5" fill="none" stroke="#ff0000" stroke-width="2.0" stroke-linejoin="round"/>
<path d="M924.6,131.0 C924.2,132.0 923.1,135.2 922.0,137.1 C920.9,138.9 919.5,140.4 918.0,142.2 C916.5,144.1 915.2,145.8 913.0,148.1 C910.8,150.5 907.7,154.1 905.0,156.6 C902.3,159.0 899.5,160.9 897.0,162.8 C894.5,164.6 892.8,166.0 890.0,167.8 C887.2,169.5 883.3,171.6 880.0,173.5 C876.7,175.4 873.3,177.6 870.0,179.2 C866.7,180.9 863.3,181.9 860.0,183.2 C856.7,184.6 855.0,185.8 850.0,187.2 C845.0,188.8 836.7,191.1 830.0,192.2 C823.3,193.4 816.7,193.6 810.0,194.2 C803.3,194.9 796.7,195.5 790.0,196.2 C783.3,197.0 776.7,197.8 770.0,198.5 C763.3,199.2 757.5,199.5 750.0,200.6 C742.5,201.8 733.3,203.8 725.0,205.4 C716.7,206.9 707.5,208.8 700.0,210.1 C692.5,211.4 686.7,212.1 680.0,213.1 C673.3,214.1 668.3,214.8 660.0,216.1 C651.7,217.3 640.0,219.0 630.0,220.4 C620.0,221.9 608.3,223.7 600.0,224.8 C591.7,226.0 586.7,226.4 580.0,227.2 C573.3,228.0 567.5,228.6 560.0,229.6 C552.5,230.6 543.3,232.1 535.0,233.2 C526.7,234.4 517.5,235.6 510.0,236.8 C502.5,238.1 496.7,239.5 490.0,240.8 C483.3,242.2 476.7,243.3 470.0,244.8 C463.3,246.3 456.7,248.2 450.0,249.8 C443.3,251.5 435.8,253.3 430.0,254.8 C424.2,256.4 420.0,257.7 415.0,259.2 C410.0,260.6 405.0,262.0 400.0,263.5 C395.0,265.0 390.0,266.7 385.0,268.3 C380.0,270.0 374.2,271.8 370.0,273.2 C365.8,274.6 364.2,275.4 360.0,276.9 C355.8,278.3 350.0,280.8 345.0,282.1 C340.0,283.5 335.0,284.4 330.0,285.2 C325.0,285.9 320.0,286.2 315.0,286.6 C310.0,287.1 305.0,288.1 300.0,288.1 C295.0,288.1 290.0,287.4 285.0,286.8 C280.0,286.2 275.0,285.7 270.0,284.5 C265.0,283.4 260.0,281.9 255.0,280.0 C250.0,278.1 245.0,275.6 240.0,273.3 C235.0,270.9 230.0,268.2 225.0,265.9 C220.0,263.6 214.2,260.9 210.0,259.4 C205.8,257.9 202.8,257.4 200.0,256.6 C197.2,255.9 195.7,255.5 193.5,254.8 C191.3,254.2 188.1,252.9 187.0,252.5" fill="none" stroke="#ff0000" stroke-width="2.0" stroke-linejoin="round"/>
<path d="M924.6,131.0 C924.2,132.0 923.1,135.2 922.0,137.1 C920.9,138.9 919.5,140.4 918.0,142.2 C916.5,144.1 915.2,145.8 913.0,148.1 C910.8,150.5 907.7,154.1 905.0,156.6 C902.3,159.0 899.5,160.9 897.0,162.8 C894.5,164.6 892.8,166.0 890.0,167.8 C887.2,169.5 883.3,171.6 880.0,173.5 C876.7,175.4 873.3,177.6 870.0,179.2 C866.7,180.9 863.3,181.9 860.0,183.2 C856.7,184.6 855.0,185.8 850.0,187.2 C845.0,188.8 836.7,191.1 830.0,192.2 C823.3,193.4 816.7,193.6 810.0,194.2 C803.3,194.9 796.7,195.5 790.0,196.2 C783.3,197.0 776.7,197.8 770.0,198.5 C763.3,199.2 757.5,199.6 750.0,200.7 C742.5,201.9 733.3,204.0 725.0,205.6 C716.7,207.2 707.5,209.1 700.0,210.5 C692.5,211.8 686.7,212.5 680.0,213.6 C673.3,214.6 668.3,215.4 660.0,216.7 C651.7,217.9 640.0,219.7 630.0,221.2 C620.0,222.7 608.3,224.5 600.0,225.7 C591.7,226.8 586.7,227.3 580.0,228.1 C573.3,229.0 567.5,229.6 560.0,230.6 C552.5,231.6 543.3,233.0 535.0,234.2 C526.7,235.3 517.5,236.4 510.0,237.7 C502.5,238.9 496.7,240.3 490.0,241.7 C483.3,243.0 476.7,244.2 470.0,245.7 C463.3,247.2 456.7,249.0 450.0,250.7 C443.3,252.3 435.8,254.1 430.0,255.7 C424.2,257.2 420.0,258.6 415.0,260.0 C410.0,261.5 405.0,262.9 400.0,264.4 C395.0,265.9 390.0,267.6 385.0,269.2 C380.0,270.7 374.2,272.5 370.0,273.9 C365.8,275.3 364.2,276.1 360.0,277.7 C355.8,279.2 350.0,281.6 345.0,283.1 C340.0,284.7 335.0,285.8 330.0,286.8 C325.0,287.8 320.0,288.3 315.0,289.0 C310.0,289.7 305.0,290.9 300.0,291.2 C295.0,291.4 290.0,291.0 285.0,290.6 C280.0,290.3 275.0,289.9 270.0,289.0 C265.0,288.2 260.0,287.1 255.0,285.4 C250.0,283.7 245.0,281.4 240.0,278.9 C235.0,276.3 230.0,272.9 225.0,270.0 C220.0,267.2 214.2,263.8 210.0,261.7 C205.8,259.7 202.8,259.0 200.0,258.0 C197.2,256.9 195.7,256.4 193.5,255.5 C191.3,254.6 188.1,253.0 187.0,252.5" fill="none" stroke="#ff0000" stroke-width="2.0" stroke-linejoin="round"/>
<path d="M924.6,131.0 C924.2,132.0 923.1,135.2 922.0,137.1 C920.9,138.9 919.5,140.4 918.0,142.2 C916.5,144.1 915.2,145.8 913.0,148.1 C910.8,150.5 907.7,154.1 905.0,156.6 C902.3,159.0 899.5,160.9 897.0,162.8 C894.5,164.6 892.8,166.0 890.0,167.8 C887.2,169.5 883.3,171.6 880.0,173.5 C876.7,175.4 873.3,177.6 870.0,179.2 C866.7,180.9 863.3,181.9 860.0,183.2 C856.7,184.6 855.0,185.8 850.0,187.2 C845.0,188.8 836.7,191.1 830.0,192.2 C823.3,193.4 816.7,193.6 810.0,194.2 C803.3,194.9 796.7,195.5 790.0,196.2 C783.3,197.0 776.7,197.7 770.0,198.5 C763.3,199.3 757.5,199.6 750.0,200.8 C742.5,202.0 733.3,204.1 725.0,205.7 C716.7,207.4 707.5,209.3 700.0,210.7 C692.5,212.0 686.7,212.8 680.0,213.9 C673.3,214.9 668.3,215.8 660.0,217.1 C651.7,218.4 640.0,220.1 630.0,221.6 C620.0,223.1 608.3,225.0 600.0,226.2 C591.7,227.3 586.7,227.9 580.0,228.7 C573.3,229.5 567.5,230.2 560.0,231.2 C552.5,232.2 543.3,233.5 535.0,234.7 C526.7,235.9 517.5,236.9 510.0,238.2 C502.5,239.4 496.7,240.8 490.0,242.2 C483.3,243.5 476.7,244.7 470.0,246.2 C463.3,247.7 456.7,249.5 450.0,251.2 C443.3,252.8 435.8,254.6 430.0,256.2 C424.2,257.7 420.0,259.1 415.0,260.6 C410.0,262.0 405.0,263.4 400.0,264.9 C395.0,266.5 390.0,268.1 385.0,269.7 C380.0,271.2 374.2,272.9 370.0,274.4 C365.8,275.8 364.2,276.6 360.0,278.2 C355.8,279.7 350.0,282.1 345.0,283.7 C340.0,285.4 335.0,286.7 330.0,287.8 C325.0,288.9 320.0,289.5 315.0,290.4 C310.0,291.3 305.0,292.6 300.0,293.0 C295.0,293.4 290.0,293.1 285.0,292.9 C280.0,292.7 275.0,292.5 270.0,291.8 C265.0,291.1 260.0,290.3 255.0,288.7 C250.0,287.1 245.0,285.0 240.0,282.3 C235.0,279.6 230.0,275.8 225.0,272.6 C220.0,269.4 214.2,265.5 210.0,263.2 C205.8,260.9 202.8,260.0 200.0,258.8 C197.2,257.6 195.7,257.0 193.5,255.9 C191.3,254.9 188.1,253.1 187.0,252.5" fill="none" stroke="#ff0000" stroke-width="2.0" stroke-linejoin="round"/>
<path d="M924.6,131.0 C924.2,132.0 923.1,135.2 922.0,137.1 C920.9,138.9 919.5,140.4 918.0,142.2 C916.5,144.1 915.2,145.8 913.0,148.1 C910.8,150.5 907.7,154.1 905.0,156.6 C902.3,159.0 899.5,160.9 897.0,162.8 C894.5,164.6 892.8,166.0 890.0,167.8 C887.2,169.5 883.3,171.6 880.0,173.5 C876.7,175.4 873.3,177.6 870.0,179.2 C866.7,180.9 863.3,181.9 860.0,183.2 C856.7,184.6 855.0,185.8 850.0,187.2 C845.0,188.8 836.7,191.1 830.0,192.2 C823.3,193.4 816.7,193.6 810.0,194.2 C803.3,194.9 796.7,195.5 790.0,196.2 C783.3,197.0 776.7,197.7 770.0,198.5 C763.3,199.3 757.5,199.6 750.0,200.9 C742.5,202.1 733.3,204.2 725.0,205.9 C716.7,207.6 707.5,209.6 700.0,210.9 C692.5,212.3 686.7,213.1 680.0,214.2 C673.3,215.3 668.3,216.2 660.0,217.5 C651.7,218.8 640.0,220.6 630.0,222.1 C620.0,223.7 608.3,225.5 600.0,226.7 C591.7,227.9 586.7,228.5 580.0,229.3 C573.3,230.2 567.5,231.0 560.0,232.0 C552.5,233.0 543.3,234.2 535.0,235.3 C526.7,236.5 517.5,237.5 510.0,238.7 C502.5,240.0 496.7,241.4 490.0,242.7 C483.3,244.1 476.7,245.2 470.0,246.7 C463.3,248.2 456.7,250.1 450.0,251.7 C443.3,253.4 435.8,255.2 430.0,256.7 C424.2,258.3 420.0,259.7 415.0,261.2 C410.0,262.6 405.0,264.1 400.0,265.6 C395.0,267.1 390.0,268.7 385.0,270.2 C380.0,271.8 374.2,273.5 370.0,274.9 C365.8,276.3 364.2,277.1 360.0,278.7 C355.8,280.3 350.0,282.8 345.0,284.5 C340.0,286.2 335.0,287.7 330.0,289.0 C325.0,290.3 320.0,291.1 315.0,292.1 C310.0,293.2 305.0,294.6 300.0,295.2 C295.0,295.8 290.0,295.7 285.0,295.7 C280.0,295.6 275.0,295.6 270.0,295.1 C265.0,294.5 260.0,294.1 255.0,292.6 C250.0,291.1 245.0,289.2 240.0,286.3 C235.0,283.5 230.0,279.1 225.0,275.6 C220.0,272.0 214.2,267.5 210.0,264.9 C205.8,262.2 202.8,261.2 200.0,259.8 C197.2,258.4 195.7,257.6 193.5,256.4 C191.3,255.2 188.1,253.2 187.0,252.5" fill="none" stroke="#ff0000" stroke-width="2.0" stroke-linejoin="round"/>
<path d="M924.6,131.0 C924.2,132.0 923.1,135.2 922.0,137.1 C920.9,138.9 919.5,140.4 918.0,142.2 C916.5,144.1 915.2,145.8 913.0,148.1 C910.8,150.5 907.7,154.1 905.0,156.6 C902.3,159.0 899.5,160.9 897.0,162.8 C894.5,164.6 892.8,166.0 890.0,167.8 C887.2,169.5 883.3,171.6 880.0,173.5 C876.7,175.4 873.3,177.6 870.0,179.2 C866.7,180.9 863.3,181.9 860.0,183.2 C856.7,184.6 855.0,185.8 850.0,187.2 C845.0,188.8 836.7,191.1 830.0,192.2 C823.3,193.4 816.7,193.6 810.0,194.2 C803.3,194.9 796.7,195.5 790.0,196.2 C783.3,197.0 776.7,197.7 770.0,198.5 C763.3,199.3 757.5,199.7 750.0,200.9 C742.5,202.2 733.3,204.3 725.0,206.1 C716.7,207.8 707.5,209.8 700.0,211.2 C692.5,212.6 686.7,213.4 680.0,214.6 C673.3,215.7 668.3,216.6 660.0,217.9 C651.7,219.3 640.0,221.1 630.0,222.6 C620.0,224.2 608.3,226.1 600.0,227.3 C591.7,228.5 586.7,229.1 580.0,229.9 C573.3,230.8 567.5,231.6 560.0,232.6 C552.5,233.6 543.3,234.8 535.0,236.0 C526.7,237.1 517.5,238.1 510.0,239.3 C502.5,240.5 496.7,241.9 490.0,243.3 C483.3,244.6 476.7,245.8 470.0,247.3 C463.3,248.8 456.7,250.6 450.0,252.3 C443.3,253.9 435.8,255.7 430.0,257.3 C424.2,258.9 420.0,260.3 415.0,261.7 C410.0,263.2 405.0,264.7 400.0,266.2 C395.0,267.7 390.0,269.3 385.0,270.8 C380.0,272.3 374.2,273.9 370.0,275.4 C365.8,276.8 364.2,277.7 360.0,279.3 C355.8,280.9 350.0,283.3 345.0,285.1 C340.0,286.9 335.0,288.6 330.0,290.1 C325.0,291.5 320.0,292.5 315.0,293.7 C310.0,294.9 305.0,296.5 300.0,297.3 C295.0,298.0 290.0,298.1 285.0,298.2 C280.0,298.3 275.0,298.4 270.0,298.1 C265.0,297.7 260.0,297.5 255.0,296.2 C250.0,294.9 245.0,293.0 240.0,290.0 C235.0,287.1 230.0,282.3 225.0,278.3 C220.0,274.4 214.2,269.4 210.0,266.4 C205.8,263.5 202.8,262.2 200.0,260.6 C197.2,259.1 195.7,258.3 193.5,256.9 C191.3,255.5 188.1,253.2 187.0,252.5" fill="none" stroke="#ff0000" stroke-width="2.0" stroke-linejoin="round"/>
<path d="M924.6,131.0 C924.2,132.0 923.1,135.2 922.0,137.1 C920.9,138.9 919.5,140.4 918.0,142.2 C916.5,144.1 915.2,145.8 913.0,148.1 C910.8,150.5 907.7,154.1 905.0,156.6 C902.3,159.0 899.5,160.9 897.0,162.8 C894.5,164.6 892.8,166.0 890.0,167.8 C887.2,169.5 883.3,171.6 880.0,173.5 C876.7,175.4 873.3,177.6 870.0,179.2 C866.7,180.9 863.3,181.9 860.0,183.2 C856.7,184.6 855.0,185.8 850.0,187.2 C845.0,188.8 836.7,191.1 830.0,192.2 C823.3,193.4 816.7,193.6 810.0,194.2 C803.3,194.9 796.7,195.5 790.0,196.2 C783.3,197.0 776.7,197.7 770.0,198.5 C763.3,199.3 757.5,199.7 750.0,201.0 C742.5,202.3 733.3,204.5 725.0,206.2 C716.7,208.0 707.5,210.0 700.0,211.5 C692.5,213.0 686.7,213.8 680.0,215.0 C673.3,216.2 668.3,217.1 660.0,218.5 C651.7,219.9 640.0,221.7 630.0,223.2 C620.0,224.8 608.3,226.8 600.0,228.0 C591.7,229.2 586.7,229.8 580.0,230.8 C573.3,231.7 567.5,232.5 560.0,233.5 C552.5,234.5 543.3,235.7 535.0,236.8 C526.7,237.8 517.5,238.8 510.0,240.0 C502.5,241.2 496.7,242.7 490.0,244.0 C483.3,245.3 476.7,246.5 470.0,248.0 C463.3,249.5 456.7,251.3 450.0,253.0 C443.3,254.7 435.8,256.4 430.0,258.0 C424.2,259.6 420.0,261.0 415.0,262.5 C410.0,264.0 405.0,265.5 400.0,267.0 C395.0,268.5 390.0,270.0 385.0,271.5 C380.0,273.0 374.2,274.6 370.0,276.0 C365.8,277.4 364.2,278.3 360.0,280.0 C355.8,281.7 350.0,284.1 345.0,286.0 C340.0,287.9 335.0,289.9 330.0,291.5 C325.0,293.1 320.0,294.3 315.0,295.8 C310.0,297.2 305.0,299.0 300.0,300.0 C295.0,301.0 290.0,301.2 285.0,301.6 C280.0,301.9 275.0,302.2 270.0,302.1 C265.0,302.0 260.0,302.2 255.0,301.0 C250.0,299.8 245.0,298.2 240.0,295.0 C235.0,291.8 230.0,286.4 225.0,282.0 C220.0,277.6 214.2,271.9 210.0,268.5 C205.8,265.1 202.8,263.7 200.0,261.8 C197.2,260.0 195.7,259.1 193.5,257.5 C191.3,255.9 188.1,253.3 187.0,252.5" fill="none" stroke="#ff0000" stroke-width="2.0" stroke-linejoin="round"/>
<path d="M613.0,190.0 C612.3,190.4 611.0,191.5 609.0,192.6 C607.0,193.7 603.7,195.4 601.0,196.6 C598.3,197.8 595.7,198.8 593.0,199.6 C590.3,200.4 588.8,200.7 585.0,201.6 C581.2,202.5 574.2,203.9 570.0,204.8 C565.8,205.8 565.0,206.0 560.0,207.3 C555.0,208.6 548.3,210.3 540.0,212.5 C531.7,214.7 520.0,217.6 510.0,220.3 C500.0,223.0 488.3,226.3 480.0,228.5 C471.7,230.7 468.3,231.1 460.0,233.5 C451.7,235.9 440.0,239.5 430.0,243.2 C420.0,246.9 407.5,252.4 400.0,255.5 C392.5,258.6 390.0,259.8 385.0,262.0 C380.0,264.2 375.0,266.5 370.0,269.0 C365.0,271.5 360.0,274.3 355.0,277.0 C350.0,279.7 344.2,282.8 340.0,285.0 C335.8,287.2 334.2,288.2 330.0,290.0 C325.8,291.8 320.0,293.9 315.0,295.5 C310.0,297.1 305.0,298.0 300.0,299.5 C295.0,301.0 289.5,303.0 285.0,304.5 C280.5,306.0 277.5,307.2 273.0,308.5 C268.5,309.8 262.7,311.7 258.0,312.5 C253.3,313.3 248.5,313.2 245.0,313.3 C241.5,313.4 240.3,313.6 237.0,313.0 C233.7,312.4 229.5,312.1 225.0,309.5 C220.5,306.9 214.5,301.9 210.0,297.5 C205.5,293.1 201.9,287.0 198.0,283.0 C194.1,279.0 188.7,275.1 186.8,273.5" fill="none" stroke="#ff0000" stroke-width="2.0" stroke-linejoin="round"/>
<line x1="201.3" y1="127.5" x2="201.3" y2="348.0" stroke="#000" stroke-width="2.2" stroke-dasharray="2.7 3.25"/>
<line x1="372.0" y1="130.0" x2="372.0" y2="296.0" stroke="#000" stroke-width="2.2" stroke-dasharray="2.7 3.25"/>
<line x1="210.0" y1="129.8" x2="365.0" y2="129.8" stroke="#000" stroke-width="2"/>
<path d="M204.0,129.8 L218.8,125.7 L217.2,129.8 L218.8,133.9 Z" fill="#000"/>
<path d="M371.0,129.8 L356.2,125.7 L357.8,129.8 L356.2,133.9 Z" fill="#000"/>
<line x1="276.3" y1="241.0" x2="276.3" y2="352.0" stroke="#000" stroke-width="2.2" stroke-dasharray="2.7 3.25"/>
<line x1="429.1" y1="237.0" x2="429.1" y2="352.0" stroke="#000" stroke-width="2.2" stroke-dasharray="2.7 3.25"/>
<line x1="283.6" y1="352.2" x2="422.3" y2="352.2" stroke="#000" stroke-width="2"/>
<path d="M277.6,352.2 L292.4,348.1 L290.8,352.2 L292.4,356.3 Z" fill="#000"/>
<path d="M428.3,352.2 L413.5,348.1 L415.1,352.2 L413.5,356.3 Z" fill="#000"/>
<line x1="495.7" y1="52.5" x2="495.7" y2="168.5" stroke="#000" stroke-width="2.2" stroke-dasharray="2.7 3.25"/>
<line x1="670.7" y1="46.3" x2="670.7" y2="168.5" stroke="#000" stroke-width="2.2" stroke-dasharray="2.7 3.25"/>
<line x1="670.7" y1="53" x2="670.7" y2="139" stroke="#000" stroke-width="2"/>
<line x1="501.9" y1="168.5" x2="664.5" y2="168.5" stroke="#000" stroke-width="2"/>
<path d="M495.9,168.5 L510.7,164.4 L509.1,168.5 L510.7,172.6 Z" fill="#000"/>
<path d="M670.5,168.5 L655.7,164.4 L657.3,168.5 L655.7,172.6 Z" fill="#000"/>
<line x1="569.6" y1="46.3" x2="569.6" y2="138.0" stroke="#000" stroke-width="2.2" stroke-dasharray="2.7 3.25"/>
<line x1="618.4" y1="46.3" x2="618.4" y2="137.0" stroke="#000" stroke-width="2.2" stroke-dasharray="2.7 3.25"/>
<line x1="575.6" y1="46.2" x2="612.4" y2="46.2" stroke="#000" stroke-width="2"/>
<path d="M569.6,46.2 L584.4,42.1 L582.8,46.2 L584.4,50.3 Z" fill="#000"/>
<path d="M618.4,46.2 L603.6,42.1 L605.2,46.2 L603.6,50.3 Z" fill="#000"/>
<line x1="676.9" y1="45.8" x2="799.6" y2="45.8" stroke="#000" stroke-width="2"/>
<path d="M670.9,45.8 L685.7,41.7 L684.1,45.8 L685.7,49.9 Z" fill="#000"/>
<path d="M805.6,45.8 L790.8,41.7 L792.4,45.8 L790.8,49.9 Z" fill="#000"/>
<line x1="805.8" y1="46.0" x2="805.8" y2="138.0" stroke="#000" stroke-width="2.2" stroke-dasharray="2.7 3.25"/>
<text x="202.00" y="116.20" font-size="31.60">Li<tspan font-size="22.00" dy="8.40">2</tspan><tspan dy="-8.40">O</tspan><tspan font-size="22.00" dy="8.40">2</tspan><tspan dy="-8.40" dx="-2.30"> plating</tspan></text>
<text x="591.00" y="31.80" font-size="31.60">Li<tspan font-size="22.00" dy="8.40">2</tspan><tspan dy="-8.40">O</tspan><tspan font-size="22.00" dy="8.40">2</tspan><tspan dy="-8.40" dx="-2.30"> stripping</tspan></text>
<text transform="translate(283.50,340.67) scale(1.0095,1.0100)" font-size="31.30" text-anchor="start" font-weight="normal">Lithiation</text>
<text transform="translate(505.97,200.64) scale(1.0101,1.0000)" font-size="31.30" text-anchor="start" font-weight="normal">Delithiation</text>
<text transform="translate(912.15,329.61) scale(0.8776,1.0000)" font-size="51.50" text-anchor="start" font-weight="bold">a</text>
<rect x="127.2" y="13.5" width="167.8" height="41.4" fill="#fff" stroke="#555" stroke-width="1.9"/>
<line x1="130" y1="36" x2="184" y2="36" stroke="#ff0000" stroke-width="2.2"/>
<text transform="translate(190.77,45.30) scale(1.0299,1.0150)" font-size="31.30" text-anchor="start" font-weight="normal">MNMO</text>
<text transform="translate(39.86,368.07) rotate(-90) scale(1.0285,1)" font-size="31.00">Current density (mA cm<tspan font-size="17.00" dy="-9.50">-2</tspan><tspan font-size="22.50" dy="9.50">)</tspan></text>
<text transform="translate(397.00,462.00) scale(1.0242,1)" font-size="31.30">Voltage vs. Li<tspan font-size="29.00" dy="-10.70">+</tspan><tspan dy="10.70">/Li (V)</tspan></text>
<path d="M114.7,509.2 V857.2 H975.3" fill="none" stroke="#000" stroke-width="2.6" stroke-linejoin="round" stroke-linecap="round"/>
<line x1="114.7" y1="857.2" x2="114.7" y2="865.9" stroke="#000" stroke-width="2.5"/>
<text transform="translate(116.09,897.00) scale(0.9793,1)" font-size="32.80" text-anchor="middle">1.5</text>
<line x1="176.2" y1="857.2" x2="176.2" y2="861.8" stroke="#000" stroke-width="2.5"/>
<line x1="237.6" y1="857.2" x2="237.6" y2="865.9" stroke="#000" stroke-width="2.5"/>
<text transform="translate(239.03,897.00) scale(0.9793,1)" font-size="32.80" text-anchor="middle">2.0</text>
<line x1="299.1" y1="857.2" x2="299.1" y2="861.8" stroke="#000" stroke-width="2.5"/>
<line x1="360.6" y1="857.2" x2="360.6" y2="865.9" stroke="#000" stroke-width="2.5"/>
<text transform="translate(361.98,897.00) scale(0.9793,1)" font-size="32.80" text-anchor="middle">2.5</text>
<line x1="422.1" y1="857.2" x2="422.1" y2="861.8" stroke="#000" stroke-width="2.5"/>
<line x1="483.5" y1="857.2" x2="483.5" y2="865.9" stroke="#000" stroke-width="2.5"/>
<text transform="translate(484.92,897.00) scale(0.9793,1)" font-size="32.80" text-anchor="middle">3.0</text>
<line x1="545.0" y1="857.2" x2="545.0" y2="861.8" stroke="#000" stroke-width="2.5"/>
<line x1="606.5" y1="857.2" x2="606.5" y2="865.9" stroke="#000" stroke-width="2.5"/>
<text transform="translate(607.86,897.00) scale(0.9793,1)" font-size="32.80" text-anchor="middle">3.5</text>
<line x1="667.9" y1="857.2" x2="667.9" y2="861.8" stroke="#000" stroke-width="2.5"/>
<line x1="729.4" y1="857.2" x2="729.4" y2="865.9" stroke="#000" stroke-width="2.5"/>
<text transform="translate(730.80,897.00) scale(0.9793,1)" font-size="32.80" text-anchor="middle">4.0</text>
<line x1="790.9" y1="857.2" x2="790.9" y2="861.8" stroke="#000" stroke-width="2.5"/>
<line x1="852.4" y1="857.2" x2="852.4" y2="865.9" stroke="#000" stroke-width="2.5"/>
<text transform="translate(853.75,897.00) scale(0.9793,1)" font-size="32.80" text-anchor="middle">4.5</text>
<line x1="913.8" y1="857.2" x2="913.8" y2="861.8" stroke="#000" stroke-width="2.5"/>
<line x1="975.3" y1="857.2" x2="975.3" y2="865.9" stroke="#000" stroke-width="2.5"/>
<text transform="translate(976.69,897.00) scale(0.9793,1)" font-size="32.80" text-anchor="middle">5.0</text>
<line x1="105.7" y1="509.2" x2="114.7" y2="509.2" stroke="#000" stroke-width="2.5"/>
<text transform="translate(99.88,517.80) scale(0.9500,1)" font-size="32.90" text-anchor="end">8</text>
<line x1="110.3" y1="531.0" x2="114.7" y2="531.0" stroke="#000" stroke-width="2.5"/>
<line x1="105.7" y1="552.7" x2="114.7" y2="552.7" stroke="#000" stroke-width="2.5"/>
<text transform="translate(99.88,561.30) scale(0.9500,1)" font-size="32.90" text-anchor="end">6</text>
<line x1="110.3" y1="574.5" x2="114.7" y2="574.5" stroke="#000" stroke-width="2.5"/>
<line x1="105.7" y1="596.2" x2="114.7" y2="596.2" stroke="#000" stroke-width="2.5"/>
<text transform="translate(99.88,604.80) scale(0.9500,1)" font-size="32.90" text-anchor="end">4</text>
<line x1="110.3" y1="618.0" x2="114.7" y2="618.0" stroke="#000" stroke-width="2.5"/>
<line x1="105.7" y1="639.7" x2="114.7" y2="639.7" stroke="#000" stroke-width="2.5"/>
<text transform="translate(99.88,648.30) scale(0.9500,1)" font-size="32.90" text-anchor="end">2</text>
<line x1="110.3" y1="661.5" x2="114.7" y2="661.5" stroke="#000" stroke-width="2.5"/>
<line x1="105.7" y1="683.2" x2="114.7" y2="683.2" stroke="#000" stroke-width="2.5"/>
<text transform="translate(99.88,691.80) scale(0.9500,1)" font-size="32.90" text-anchor="end">0</text>
<line x1="110.3" y1="705.0" x2="114.7" y2="705.0" stroke="#000" stroke-width="2.5"/>
<line x1="105.7" y1="726.7" x2="114.7" y2="726.7" stroke="#000" stroke-width="2.5"/>
<text transform="translate(99.88,735.30) scale(0.9500,1)" font-size="32.90" text-anchor="end">-2</text>
<line x1="110.3" y1="748.5" x2="114.7" y2="748.5" stroke="#000" stroke-width="2.5"/>
<line x1="105.7" y1="770.2" x2="114.7" y2="770.2" stroke="#000" stroke-width="2.5"/>
<text transform="translate(99.88,778.80) scale(0.9500,1)" font-size="32.90" text-anchor="end">-4</text>
<line x1="110.3" y1="792.0" x2="114.7" y2="792.0" stroke="#000" stroke-width="2.5"/>
<line x1="105.7" y1="813.7" x2="114.7" y2="813.7" stroke="#000" stroke-width="2.5"/>
<text transform="translate(99.88,822.30) scale(0.9500,1)" font-size="32.90" text-anchor="end">-6</text>
<line x1="110.3" y1="835.5" x2="114.7" y2="835.5" stroke="#000" stroke-width="2.5"/>
<line x1="105.7" y1="857.2" x2="114.7" y2="857.2" stroke="#000" stroke-width="2.5"/>
<text transform="translate(99.88,865.80) scale(0.9500,1)" font-size="32.90" text-anchor="end">-8</text>
<path d="M189.1,749.9 C189.7,748.8 190.6,746.1 192.5,743.2 C194.4,740.3 198.0,735.7 200.8,732.4 C203.6,729.1 205.6,726.3 209.1,723.3 C212.6,720.2 216.8,717.0 221.6,714.1 C226.4,711.2 231.8,708.4 238.2,705.8 C244.6,703.2 254.5,700.1 259.8,698.3 C265.1,696.5 264.1,696.2 270.0,695.0 C275.9,693.8 286.7,692.5 295.0,691.0 C303.3,689.5 311.7,687.8 320.0,686.0 C328.3,684.2 336.7,682.2 345.0,680.0 C353.3,677.8 361.7,675.0 370.0,672.5 C378.3,670.0 385.8,668.3 395.0,665.0 C404.2,661.7 415.8,656.5 425.0,652.5 C434.2,648.5 441.7,644.8 450.0,641.0 C458.3,637.2 466.7,633.5 475.0,630.0 C483.3,626.5 491.7,623.3 500.0,620.0 C508.3,616.7 516.7,612.9 525.0,610.0 C533.3,607.1 541.7,604.6 550.0,602.5 C558.3,600.4 566.7,598.6 575.0,597.5 C583.3,596.4 591.7,595.8 600.0,596.0 C608.3,596.2 616.7,597.9 625.0,599.0 C633.3,600.1 643.3,601.3 650.0,602.5 C656.7,603.7 658.3,604.6 665.0,606.0 C671.7,607.4 681.7,609.1 690.0,611.0 C698.3,612.9 706.7,615.5 715.0,617.5 C723.3,619.5 731.7,621.4 740.0,623.0 C748.3,624.6 756.7,626.3 765.0,627.0 C773.3,627.7 781.7,628.0 790.0,627.0 C798.3,626.0 806.7,622.8 815.0,621.0 C823.3,619.2 832.5,617.4 840.0,616.0 C847.5,614.6 855.0,613.4 860.0,612.5 C865.0,611.6 866.7,611.1 870.0,610.8 C873.3,610.5 876.7,610.7 880.0,610.8 C883.3,610.9 887.5,611.0 890.0,611.5 C892.5,612.0 892.5,612.1 895.0,613.5 C897.5,614.9 902.2,618.1 905.0,620.0 C907.8,621.9 909.8,623.9 912.0,625.0 C914.2,626.1 915.5,626.3 918.0,626.5 C920.5,626.7 927.5,623.8 927.0,626.0 C926.5,628.2 918.7,636.0 915.0,640.0 C911.3,644.0 909.2,646.4 905.0,650.0 C900.8,653.6 895.0,658.2 890.0,661.5 C885.0,664.8 879.2,667.6 875.0,670.0 C870.8,672.4 870.8,673.7 865.0,676.0 C859.2,678.3 848.3,682.2 840.0,684.0 C831.7,685.8 823.3,686.2 815.0,687.0 C806.7,687.8 802.5,687.7 790.0,689.0 C777.5,690.3 756.7,692.3 740.0,695.0 C723.3,697.7 706.7,701.8 690.0,705.0 C673.3,708.2 655.0,711.9 640.0,714.0 C625.0,716.1 615.0,716.1 600.0,717.5 C585.0,718.9 566.7,720.2 550.0,722.5 C533.3,724.8 516.7,727.6 500.0,731.0 C483.3,734.4 461.7,740.0 450.0,743.0 C438.3,746.0 436.7,747.0 430.0,749.0 C423.3,751.0 416.7,752.8 410.0,755.0 C403.3,757.2 396.7,759.5 390.0,762.0 C383.3,764.5 376.7,767.3 370.0,770.0 C363.3,772.7 356.7,775.5 350.0,778.0 C343.3,780.5 336.7,782.8 330.0,785.0 C323.3,787.2 316.7,789.2 310.0,791.0 C303.3,792.8 296.7,795.2 290.0,796.0 C283.3,796.8 276.7,796.8 270.0,796.0 C263.3,795.2 255.8,793.3 250.0,791.0 C244.2,788.7 239.7,785.5 235.0,782.0 C230.3,778.5 225.9,773.5 221.6,769.8 C217.3,766.1 213.3,762.7 209.1,759.9 C204.9,757.1 199.9,754.9 196.6,753.2 C193.3,751.5 190.3,750.5 189.1,749.9" fill="none" stroke="#ff0000" stroke-width="2.3" stroke-linejoin="round"/>
<path d="M189.6,728.7 C190.1,727.9 190.6,726.2 192.5,724.1 C194.4,722.0 197.3,718.4 200.8,715.8 C204.3,713.2 209.2,710.4 213.3,708.3 C217.5,706.2 221.5,704.8 225.7,703.3 C229.8,701.8 234.0,700.8 238.2,699.6 C242.4,698.4 245.4,697.6 250.7,696.2 C256.0,694.8 262.6,692.2 270.0,691.0 C277.4,689.8 286.7,689.8 295.0,688.8 C303.3,687.8 311.7,686.0 320.0,685.0 C328.3,684.0 336.7,683.5 345.0,682.5 C353.3,681.5 360.8,680.4 370.0,678.8 C379.2,677.1 390.8,674.8 400.0,672.5 C409.2,670.2 416.7,668.1 425.0,665.0 C433.3,661.9 441.7,658.2 450.0,654.0 C458.3,649.8 466.7,644.8 475.0,640.0 C483.3,635.2 491.7,629.6 500.0,625.0 C508.3,620.4 516.7,615.8 525.0,612.5 C533.3,609.2 541.7,606.9 550.0,605.0 C558.3,603.1 566.7,601.9 575.0,601.0 C583.3,600.1 591.7,600.0 600.0,599.5 C608.3,599.0 616.7,598.3 625.0,598.0 C633.3,597.7 643.3,597.7 650.0,597.5 C656.7,597.3 658.3,596.7 665.0,597.0 C671.7,597.3 681.7,598.0 690.0,599.5 C698.3,601.0 706.7,603.2 715.0,606.0 C723.3,608.8 731.7,612.4 740.0,616.0 C748.3,619.6 756.7,623.9 765.0,627.5 C773.3,631.1 781.7,634.7 790.0,637.5 C798.3,640.3 806.7,642.8 815.0,644.5 C823.3,646.2 830.8,647.3 840.0,647.8 C849.2,648.3 862.5,648.3 870.0,647.5 C877.5,646.7 880.0,644.6 885.0,643.0 C890.0,641.4 895.0,639.8 900.0,638.0 C905.0,636.2 910.5,633.8 915.0,632.0 C919.5,630.2 927.0,625.7 927.0,627.0 C927.0,628.3 918.7,636.2 915.0,640.0 C911.3,643.8 909.2,646.5 905.0,650.0 C900.8,653.5 895.0,657.7 890.0,661.0 C885.0,664.3 879.2,667.7 875.0,670.0 C870.8,672.3 870.8,672.7 865.0,675.0 C859.2,677.3 848.3,681.6 840.0,684.0 C831.7,686.4 823.3,688.3 815.0,689.5 C806.7,690.7 802.5,690.5 790.0,691.0 C777.5,691.5 756.7,691.4 740.0,692.5 C723.3,693.6 706.7,695.4 690.0,697.5 C673.3,699.6 650.8,703.1 640.0,705.0 C629.2,706.9 631.7,707.4 625.0,709.0 C618.3,710.6 609.2,712.7 600.0,714.5 C590.8,716.3 578.3,718.5 570.0,720.0 C561.7,721.5 556.7,722.2 550.0,723.5 C543.3,724.8 538.3,726.1 530.0,728.0 C521.7,729.9 510.0,732.8 500.0,735.0 C490.0,737.2 478.3,739.7 470.0,741.5 C461.7,743.3 458.3,744.0 450.0,746.0 C441.7,748.0 430.0,750.7 420.0,753.5 C410.0,756.3 400.0,759.8 390.0,763.0 C380.0,766.2 368.3,770.3 360.0,773.0 C351.7,775.7 345.7,777.7 340.0,779.0 C334.3,780.3 331.7,780.8 326.0,781.0 C320.3,781.2 312.0,781.2 306.0,780.0 C300.0,778.8 296.0,777.3 290.0,774.0 C284.0,770.7 275.9,764.2 270.0,760.0 C264.1,755.8 259.4,751.9 254.8,749.0 C250.2,746.1 246.6,744.3 242.4,742.4 C238.2,740.5 234.1,738.8 229.9,737.4 C225.7,736.0 221.6,735.0 217.4,734.0 C213.2,733.0 209.2,731.8 205.0,731.2 C200.8,730.6 195.1,730.7 192.5,730.3 C189.9,729.9 190.1,729.0 189.6,728.7" fill="none" stroke="#000" stroke-width="2.3" stroke-linejoin="round"/>
<path d="M189.1,744.9 C190.3,743.1 193.9,737.7 196.6,734.1 C199.2,730.5 201.5,726.9 205.0,723.3 C208.5,719.7 212.6,715.7 217.4,712.5 C222.2,709.3 226.9,707.0 234.0,704.1 C241.1,701.2 253.8,697.4 259.8,695.0 C265.8,692.6 264.1,691.5 270.0,690.0 C275.9,688.5 286.7,687.2 295.0,686.0 C303.3,684.8 311.7,683.9 320.0,682.5 C328.3,681.1 336.7,679.2 345.0,677.5 C353.3,675.8 360.8,674.4 370.0,672.5 C379.2,670.6 390.8,668.8 400.0,666.0 C409.2,663.2 416.7,659.5 425.0,656.0 C433.3,652.5 441.7,648.5 450.0,645.0 C458.3,641.5 466.7,637.9 475.0,635.0 C483.3,632.1 491.7,629.8 500.0,627.5 C508.3,625.2 516.7,622.7 525.0,621.0 C533.3,619.3 541.7,618.6 550.0,617.5 C558.3,616.4 566.7,615.2 575.0,614.5 C583.3,613.8 587.5,613.2 600.0,613.0 C612.5,612.8 635.0,613.1 650.0,613.0 C665.0,612.9 675.0,612.2 690.0,612.5 C705.0,612.8 723.3,614.2 740.0,615.0 C756.7,615.8 773.3,617.1 790.0,617.0 C806.7,616.9 828.3,615.4 840.0,614.5 C851.7,613.6 853.3,612.2 860.0,611.5 C866.7,610.8 874.2,610.5 880.0,610.5 C885.8,610.5 890.0,610.5 895.0,611.5 C900.0,612.5 905.8,614.9 910.0,616.5 C914.2,618.1 917.2,619.7 920.0,621.0 C922.8,622.3 927.8,621.3 927.0,624.5 C926.2,627.7 918.7,635.8 915.0,640.0 C911.3,644.2 909.2,646.7 905.0,650.0 C900.8,653.3 896.7,656.2 890.0,660.0 C883.3,663.8 873.3,669.5 865.0,673.0 C856.7,676.5 852.5,678.6 840.0,681.0 C827.5,683.4 806.7,685.0 790.0,687.5 C773.3,690.0 756.7,692.7 740.0,696.0 C723.3,699.3 706.7,704.2 690.0,707.5 C673.3,710.8 655.0,713.9 640.0,716.0 C625.0,718.1 615.0,718.1 600.0,720.0 C585.0,721.9 566.7,724.6 550.0,727.5 C533.3,730.4 516.7,734.2 500.0,737.5 C483.3,740.8 465.0,743.6 450.0,747.0 C435.0,750.4 420.0,755.3 410.0,758.0 C400.0,760.7 396.7,761.2 390.0,763.0 C383.3,764.8 376.7,767.2 370.0,769.0 C363.3,770.8 356.7,772.7 350.0,774.0 C343.3,775.3 336.7,776.5 330.0,777.0 C323.3,777.5 316.7,777.3 310.0,777.0 C303.3,776.7 296.7,776.7 290.0,775.0 C283.3,773.3 275.0,769.0 270.0,767.0 C265.0,765.0 263.7,764.7 259.8,763.2 C255.9,761.7 251.5,759.9 246.5,758.2 C241.5,756.5 235.4,754.5 229.9,752.8 C224.4,751.1 218.9,749.5 213.3,748.2 C207.8,747.0 200.6,745.8 196.6,745.3 C192.6,744.8 190.3,745.0 189.1,744.9" fill="none" stroke="#ff0000" stroke-width="2.3" stroke-linejoin="round" stroke-dasharray="2.2 2.4"/>
<path d="M188.3,722.4 C189.7,720.9 193.1,716.3 196.6,713.3 C200.1,710.2 204.2,706.7 209.1,704.1 C213.9,701.5 219.5,699.3 225.7,697.5 C231.9,695.7 240.8,694.3 246.5,693.3 C252.2,692.3 255.9,692.4 259.8,691.7 C263.7,691.0 264.1,690.0 270.0,689.0 C275.9,688.0 286.7,686.8 295.0,686.0 C303.3,685.2 311.7,684.8 320.0,684.0 C328.3,683.2 336.7,682.1 345.0,681.0 C353.3,679.9 360.8,678.7 370.0,677.5 C379.2,676.3 390.8,675.4 400.0,674.0 C409.2,672.6 416.7,671.2 425.0,669.0 C433.3,666.8 441.7,663.5 450.0,661.0 C458.3,658.5 466.7,656.7 475.0,654.0 C483.3,651.3 491.7,647.5 500.0,645.0 C508.3,642.5 516.7,641.1 525.0,639.0 C533.3,636.9 541.7,634.2 550.0,632.5 C558.3,630.8 566.7,630.2 575.0,629.0 C583.3,627.8 591.7,626.1 600.0,625.0 C608.3,623.9 616.7,623.2 625.0,622.5 C633.3,621.8 639.2,621.0 650.0,621.0 C660.8,621.0 675.0,621.7 690.0,622.5 C705.0,623.3 723.3,624.8 740.0,626.0 C756.7,627.2 773.3,628.8 790.0,630.0 C806.7,631.2 828.3,632.7 840.0,633.5 C851.7,634.3 854.2,634.8 860.0,635.0 C865.8,635.2 870.0,635.5 875.0,635.0 C880.0,634.5 885.0,633.1 890.0,632.0 C895.0,630.9 900.8,629.7 905.0,628.5 C909.2,627.3 911.7,626.1 915.0,625.0 C918.3,623.9 925.0,619.5 925.0,622.0 C925.0,624.5 918.3,635.3 915.0,640.0 C911.7,644.7 909.2,646.5 905.0,650.0 C900.8,653.5 896.7,657.0 890.0,661.0 C883.3,665.0 873.3,670.4 865.0,674.0 C856.7,677.6 852.5,679.9 840.0,682.5 C827.5,685.1 806.7,687.4 790.0,689.5 C773.3,691.6 756.7,692.8 740.0,695.0 C723.3,697.2 706.7,700.2 690.0,702.5 C673.3,704.8 655.0,706.9 640.0,709.0 C625.0,711.1 615.0,712.8 600.0,715.0 C585.0,717.2 566.7,719.0 550.0,722.0 C533.3,725.0 513.3,730.2 500.0,733.0 C486.7,735.8 478.3,737.2 470.0,738.5 C461.7,739.8 456.7,739.6 450.0,740.5 C443.3,741.4 436.7,743.1 430.0,744.0 C423.3,744.9 416.7,745.4 410.0,746.0 C403.3,746.6 396.7,747.2 390.0,747.6 C383.3,748.0 376.7,748.9 370.0,748.6 C363.3,748.3 356.7,747.3 350.0,746.0 C343.3,744.7 336.7,742.7 330.0,741.0 C323.3,739.3 316.7,737.5 310.0,736.0 C303.3,734.5 296.7,733.2 290.0,732.0 C283.3,730.8 275.0,729.6 270.0,729.0 C265.0,728.4 265.8,728.8 259.8,728.3 C253.8,727.8 241.1,726.8 234.0,726.2 C226.9,725.6 222.9,725.3 217.4,724.9 C211.9,724.5 205.7,724.1 200.8,723.7 C196.0,723.3 190.4,722.6 188.3,722.4" fill="none" stroke="#000" stroke-width="2.3" stroke-linejoin="round" stroke-dasharray="2.2 2.4"/>
<rect x="125.6" y="502.5" width="264.8" height="161.1" fill="#fff" stroke="#555" stroke-width="1.9"/>
<line x1="128.6" y1="525.4" x2="182.6" y2="525.4" stroke="#ff0000" stroke-width="2.3"/>
<line x1="128.6" y1="565" x2="182.6" y2="565" stroke="#000" stroke-width="2.3"/>
<line x1="128.6" y1="605.5" x2="182.6" y2="605.5" stroke="#ff0000" stroke-width="2.3" stroke-dasharray="2.2 2.4"/>
<line x1="128.6" y1="644.5" x2="182.6" y2="644.5" stroke="#000" stroke-width="2.3" stroke-dasharray="2.2 2.4"/>
<text transform="translate(190.67,534.18) scale(1.0377,1.0400)" font-size="31.30" text-anchor="start" font-weight="normal">MNMO (2nd)</text>
<text transform="translate(190.87,573.67) scale(1.0417,1.0400)" font-size="31.30" text-anchor="start" font-weight="normal">MNMN (2nd)</text>
<text transform="translate(190.76,613.15) scale(1.0352,1.0400)" font-size="31.30" text-anchor="start" font-weight="normal">MNMO (10th)</text>
<text transform="translate(190.70,651.56) scale(1.0411,1.0400)" font-size="31.30" text-anchor="start" font-weight="normal">MNMN (10th)</text>
<text transform="translate(905.69,819.40) scale(1.0099,1.0000)" font-size="51.00" text-anchor="start" font-weight="bold">b</text>
<text transform="translate(33.56,850.41) rotate(-90) scale(0.9829,1)" font-size="33.00">Current denisty (mA cm<tspan font-size="24.50" dy="-12.00">-2</tspan><tspan font-size="33.00" dy="12.00">)</tspan></text>
<text transform="translate(397.05,951.96) scale(0.9999,1)" font-size="33.00">Voltage vs. Li<tspan font-size="20.00" dy="-13.30">+</tspan><tspan dy="13.30">/Li (V)</tspan></text>
</svg></body></html>
